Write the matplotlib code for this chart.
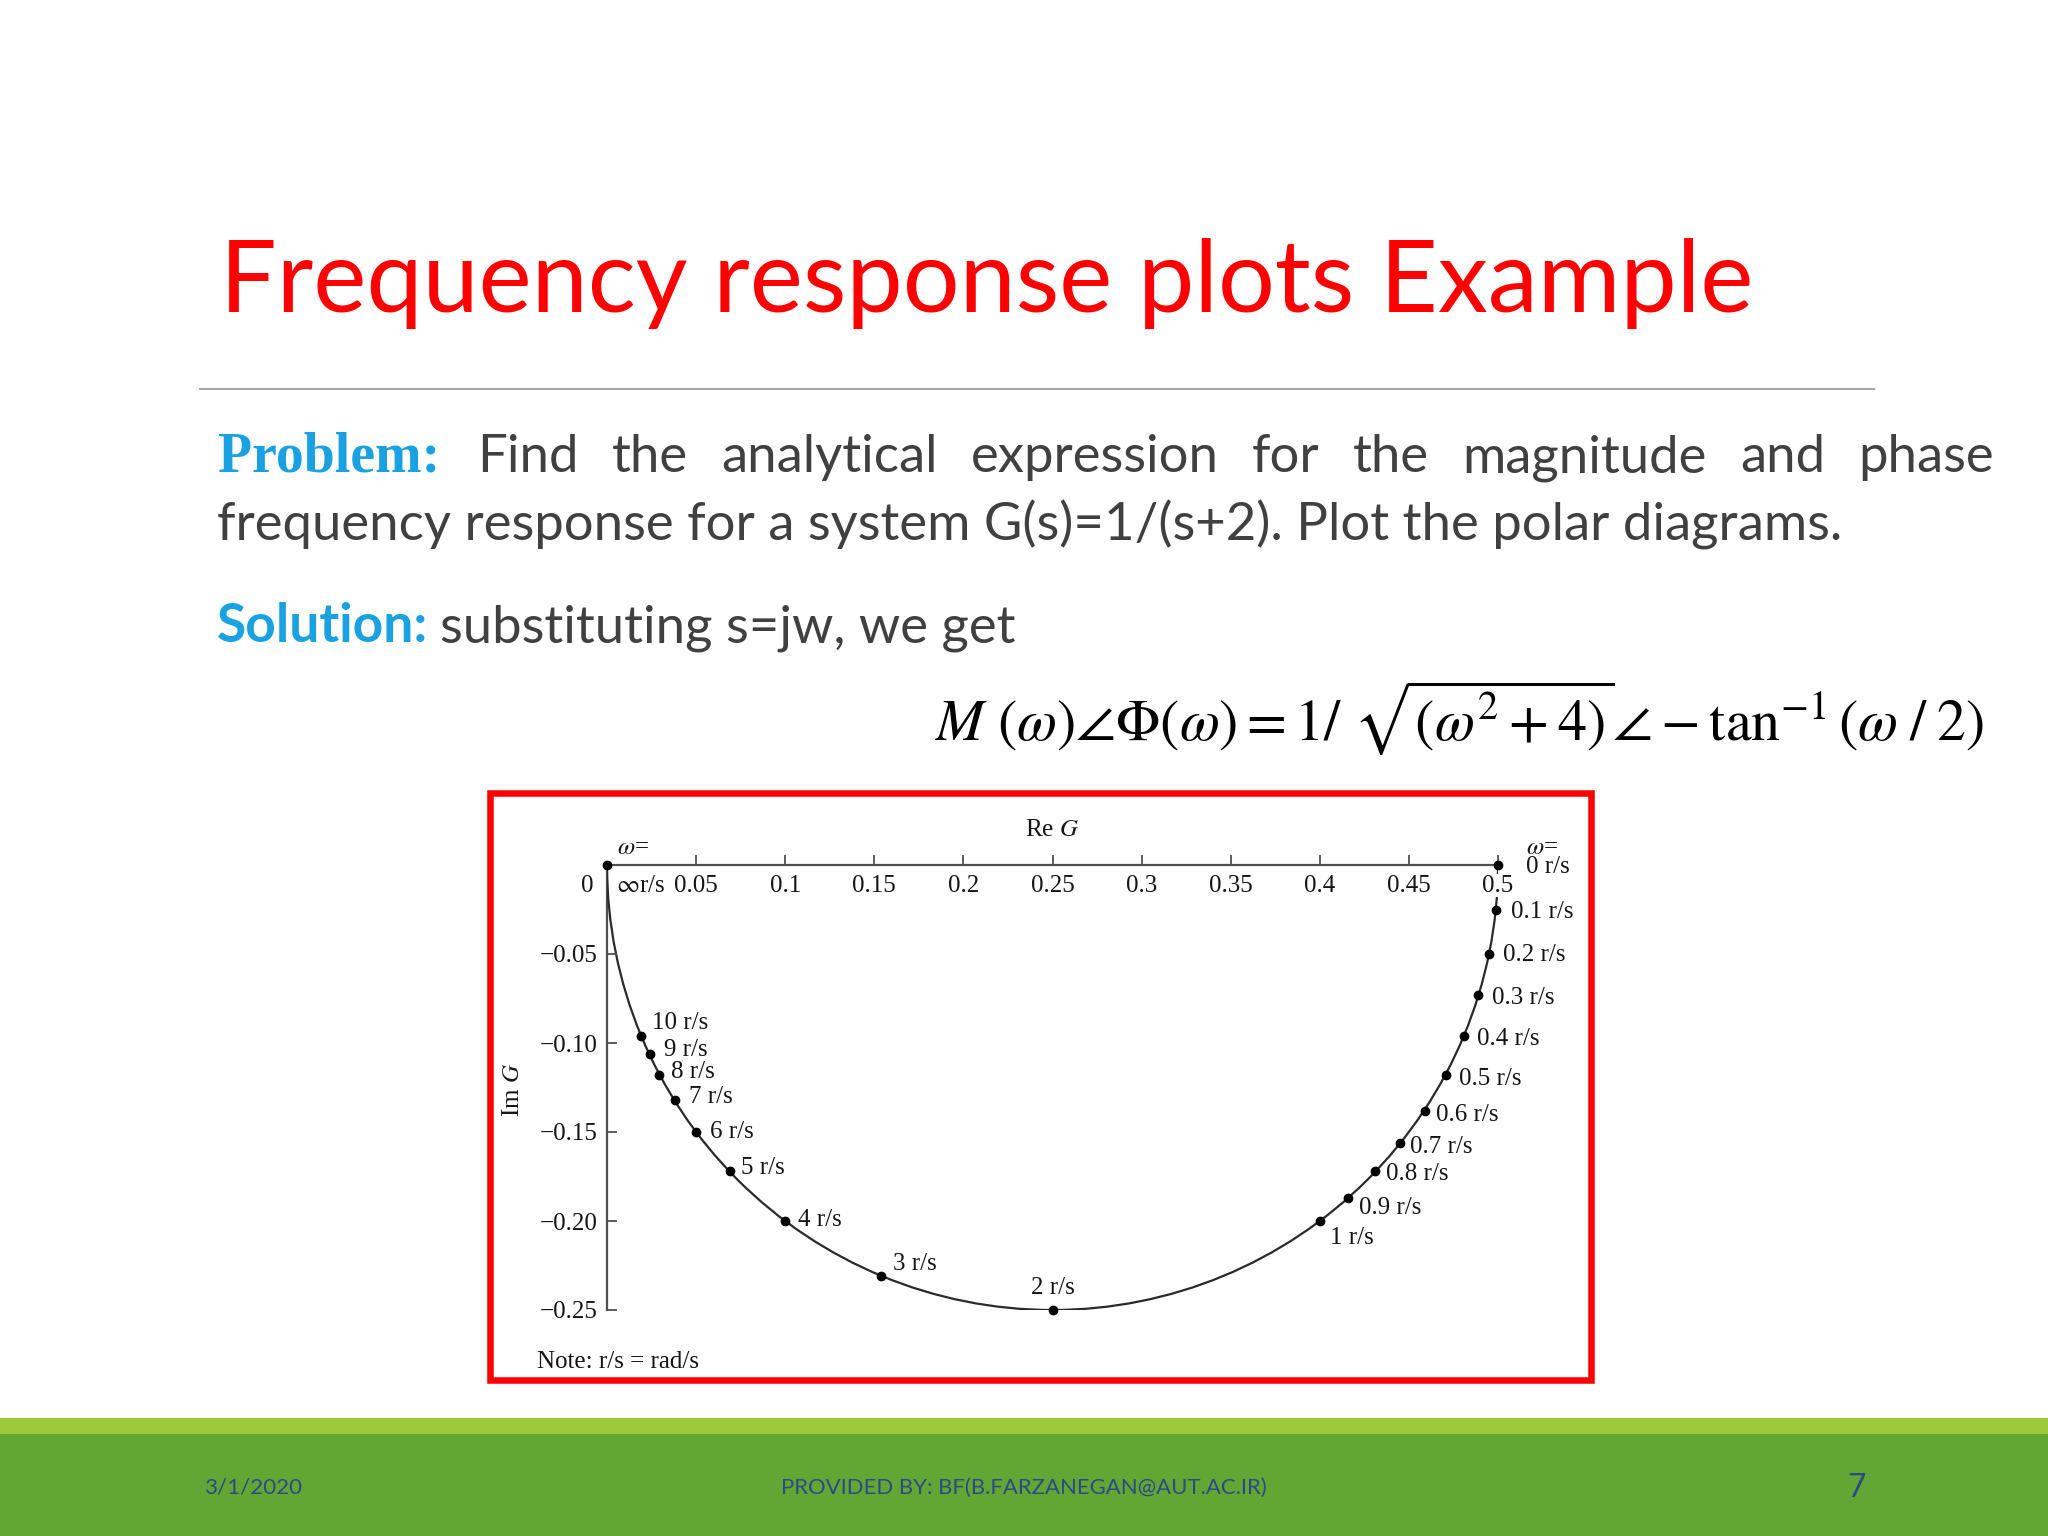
import matplotlib
matplotlib.use("Agg")
import matplotlib.pyplot as plt
from matplotlib.patches import Rectangle, Arc

# ---------------- data ----------------
omega_labels = ["0.1 r/s", "0.2 r/s", "0.3 r/s", "0.4 r/s", "0.5 r/s", "0.6 r/s",
                "0.7 r/s", "0.8 r/s", "0.9 r/s", "1 r/s", "2 r/s", "3 r/s",
                "4 r/s", "5 r/s", "6 r/s", "7 r/s", "8 r/s", "9 r/s", "10 r/s"]
re_G = [0.499, 0.495, 0.489, 0.481, 0.471, 0.459, 0.445, 0.431, 0.416, 0.400,
        0.250, 0.154, 0.100, 0.069, 0.050, 0.038, 0.029, 0.024, 0.019]
im_G = [-0.025, -0.050, -0.073, -0.096, -0.118, -0.138, -0.156, -0.172, -0.187, -0.200,
        -0.250, -0.231, -0.200, -0.172, -0.150, -0.132, -0.118, -0.106, -0.096]
# end points: omega = 0 and omega = infinity
end_re = [0.5, 0.0]
end_im = [0.0, 0.0]

xtick_vals = [0.05, 0.1, 0.15, 0.2, 0.25, 0.3, 0.35, 0.4, 0.45, 0.5]
xtick_labels = ["0.05", "0.1", "0.15", "0.2", "0.25", "0.3", "0.35", "0.4", "0.45", "0.5"]
ytick_vals = [-0.05, -0.10, -0.15, -0.20, -0.25]
ytick_labels = ["\u22120.05", "\u22120.10", "\u22120.15", "\u22120.20", "\u22120.25"]

# label offsets in points (style, not data)
label_offsets = [(11, -2), (10, -1), (10, -2), (9, -2), (9, -3), (8, -3), (7, -3),
                 (8, -2), (8, -7), (7, -12), (0, 16), (8, 9), (9, 1), (8, 2),
                 (10, 0), (10, 2), (9, 2), (10, 3), (8, 9)]

# ---------------- figure ----------------
W, H = 2048, 1536
DPI = 100
plt.rcParams['mathtext.fontset'] = 'stix'
fig = plt.figure(figsize=(W / DPI, H / DPI), dpi=DPI, facecolor='white')
renderer = fig.canvas.get_renderer()


def fx(px):
    return px / W


def fy(py):
    return 1 - py / H


def fit_text(x, y, s, width, size0=30, **kw):
    t = fig.text(fx(x), fy(y), s, fontsize=size0, **kw)
    w = t.get_window_extent(renderer).width
    t.set_fontsize(size0 * width / w)
    return t


SANS = ['Lato', 'DejaVu Sans']
GRAY = '#404040'
CYAN = '#1AA1E1'

# Title
fit_text(220, 312, "Frequency response plots Example", 1532, size0=80,
         color='#FF0000', family=SANS, weight='normal', va='baseline')
# separator line
fig.add_artist(plt.Line2D([fx(200), fx(1874)], [fy(389), fy(389)],
                          color='#A6A6A6', lw=1.5))

# Line 2 (sets body font size)
t2 = fit_text(217, 540, "frequency response for a system G(s)=1/(s+2). Plot the polar diagrams.",
              1626, size0=36, color=GRAY, family=SANS, va='baseline')
body_fs = t2.get_fontsize()

# Line 1 : justified
fit_text(218, 472, "Problem:", 222, size0=36, color=CYAN, family='Liberation Serif',
         weight='bold', va='baseline')
words = ["Find", "the", "analytical", "expression", "for", "the", "magnitude", "and", "phase"]
objs = []
widths = []
for wd in words:
    t = fig.text(0, fy(472), wd, fontsize=body_fs, color=GRAY, family=SANS, va='baseline')
    objs.append(t)
    widths.append(t.get_window_extent(renderer).width)
left, right = 477, 1994
gap = (right - left - sum(widths)) / (len(words) - 1)
xcur = left
for t, wdt in zip(objs, widths):
    t.set_x(fx(xcur))
    xcur += wdt + gap

# Solution line
fit_text(217, 642, "Solution:", 211, size0=36, color=CYAN, family=SANS, weight='bold',
         va='baseline')
fig.text(fx(440), fy(642), "substituting s=jw, we get", fontsize=body_fs, color=GRAY,
         family=SANS, va='baseline')

# Equation
fit_text(934, 740,
         r'$M\ (\omega)\angle\Phi(\omega) = 1/\ \sqrt{(\omega^2+4)}\angle - \tan^{-1}(\omega\;/\;2)$',
         1049, size0=40, color='black', va='baseline')

# Red frame
fig.add_artist(Rectangle((fx(490), fy(1380)), fx(1591) - fx(490), fy(793) - fy(1380),
                         transform=fig.transFigure, fill=False, edgecolor='#FF0000',
                         lw=4.7, zorder=5))

# Footer
fig.add_artist(Rectangle((0, fy(1434)), 1, fy(1418) - fy(1434), transform=fig.transFigure,
                         facecolor='#9BCB3A', edgecolor='none'))
fig.add_artist(Rectangle((0, 0), 1, fy(1434), transform=fig.transFigure,
                         facecolor='#62A633', edgecolor='none'))
FOOT = '#2E4A86'
fit_text(205, 1488, "3/1/2020", 98, size0=18, color=FOOT, family=SANS, va='center')
fit_text(781, 1488, "PROVIDED BY: BF(B.FARZANEGAN@AUT.AC.IR)", 486, size0=18, color=FOOT,
         family=SANS, va='center')
fig.text(fx(1856), fy(1488), "7", fontsize=body_fs * 0.6, color=FOOT, family=SANS,
         va='center', ha='center')

# ---------------- polar plot ----------------
SERIF = 'Liberation Serif'
INK = '#151515'
FS = 18
x0, x1 = 607, 1498
y0, y1 = 865, 1310
ax = fig.add_axes([fx(x0), fy(y1), fx(x1) - fx(x0), fy(y0) - fy(y1)])
ax.set_xlim(0, 0.5)
ax.set_ylim(-0.25, 0)
ax.patch.set_alpha(0)
for s in ['top', 'right']:
    ax.spines[s].set_visible(False)
ax.spines['bottom'].set_position(('data', 0))
for s in ['bottom', 'left']:
    ax.spines[s].set_color('#505050')
    ax.spines[s].set_linewidth(1.6)
    ax.spines[s].set_zorder(1)

ax.set_xticks(xtick_vals, xtick_labels)
ax.set_yticks(ytick_vals, ytick_labels)
ax.tick_params(axis='x', direction='in', length=7, width=1.3, pad=7, colors='#505050',
               labelcolor=INK, labelsize=FS)
ax.tick_params(axis='y', direction='in', length=7, width=1.3, pad=7, colors='#505050',
               labelcolor=INK, labelsize=FS)
for lab in ax.get_xticklabels() + ax.get_yticklabels():
    lab.set_family(SERIF)
for lab in ax.get_xticklabels():
    lab.set_bbox(dict(facecolor='white', edgecolor='none', pad=0.5))
ax.xaxis.set_zorder(2.5)

# curve: semicircle through the response points
r0 = end_re[0]
ax.add_patch(Arc((r0 / 2, 0), r0, r0, theta1=180, theta2=360, color='#2A2A2A', lw=1.6,
                 zorder=1.2))
ax.plot(re_G, im_G, 'o', color='black', ms=6, clip_on=False, zorder=3)
ax.plot(end_re, end_im, 'o', color='black', ms=6, clip_on=False, zorder=3)

for lab, xv, yv, (dx, dy) in zip(omega_labels, re_G, im_G, label_offsets):
    ha = 'center' if dx == 0 else 'left'
    ax.annotate(lab, (xv, yv), xytext=(dx, dy), textcoords='offset points',
                ha=ha, va='center', fontsize=FS, family=SERIF, color=INK)

tkw = dict(fontsize=FS, family=SERIF, color=INK)
fig.text(fx(587), fy(886), "0", ha='center', va='center', **tkw)
fig.text(fx(617), fy(848), r"$\omega$=", ha='left', va='center', **tkw)
fig.text(fx(616), fy(886), r"$\infty$r/s", ha='left', va='center', **tkw)
fig.text(fx(1526), fy(848), r"$\omega$=", ha='left', va='center', **tkw)
fig.text(fx(1526), fy(867), "0 r/s", ha='left', va='center', **tkw)
fig.text(fx(1052), fy(830), r"Re $G$", ha='center', va='center', **tkw)
fig.text(fx(513), fy(1090), r"Im $G$", ha='center', va='center', rotation=90, **tkw)
fig.text(fx(537), fy(1362), "Note: r/s = rad/s", ha='left', va='center', **tkw)

fig.savefig("out.png", dpi=DPI, facecolor='white')
